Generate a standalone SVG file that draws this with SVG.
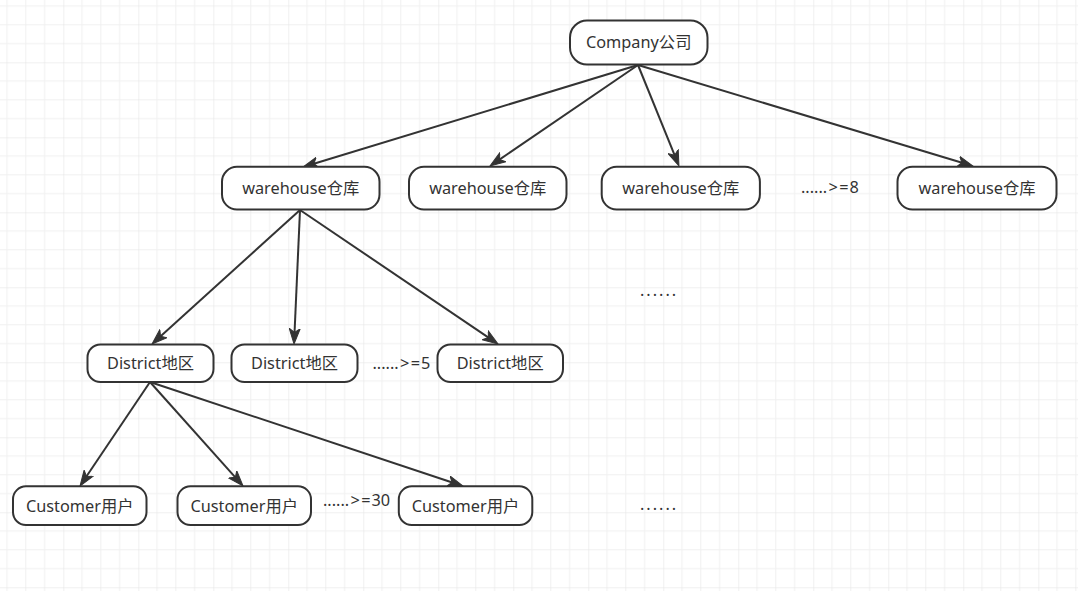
<svg xmlns="http://www.w3.org/2000/svg" width="1078" height="591" viewBox="0 0 1078 591">
<style>
.node rect{fill:#ffffff;stroke:#333333;stroke-width:2}
.node text,.label{font-family:"Noto Sans","Noto Sans CJK SC",sans-serif;font-size:16.3px;fill:#333333}
.node text{text-anchor:middle}
.edge{stroke:#333333;stroke-width:2;fill:none;marker-end:url(#arrow)}
</style>
<defs>
<pattern id="grid" patternUnits="userSpaceOnUse" x="-11.7" y="-12.7" width="75" height="75">
<path d="M18.75,0V75M37.5,0V75M56.25,0V75M0,18.75H75M0,37.5H75M0,56.25H75" stroke="#f0f0f0" stroke-width="1" fill="none"/>
<path d="M0,0V75M0,0H75" stroke="#e2e2e2" stroke-width="1" fill="none"/>
</pattern>
<marker id="arrow" markerUnits="userSpaceOnUse" viewBox="0 0 16 12" markerWidth="16" markerHeight="12" refX="5" refY="6" orient="auto">
<path d="M0,0.5 L15.5,6 L0,11.5 L4,6 Z" fill="#333333" stroke="#333333" stroke-width="1" stroke-linejoin="miter"/>
</marker>
</defs>
<rect x="0" y="0" width="1078" height="591" fill="#ffffff"/>
<rect x="0" y="0" width="1078" height="591" fill="url(#grid)"/>

<g id="connectors">
<path class="edge" d="M638,65 L313,164"/>
<path class="edge" d="M638,65 L498.7,160.1"/>
<path class="edge" d="M638,65 L675,156.2"/>
<path class="edge" d="M638,65 L962.9,163"/>
<path class="edge" d="M300,210 L159.8,337"/>
<path class="edge" d="M300,210 L294.5,333.5"/>
<path class="edge" d="M300,210 L489.3,338.1"/>
<path class="edge" d="M150,382 L85.9,477.3"/>
<path class="edge" d="M150,382 L236,478.1"/>
<path class="edge" d="M150,382 L453,482.7"/>
</g>

<g id="company" class="node"><rect x="570" y="20.5" width="137.5" height="44" rx="17"/><text x="638.7" y="48.3">Company公司</text></g>

<g id="warehouse1" class="node"><rect x="222" y="166.8" width="157.5" height="42.7" rx="15"/><text x="300.7" y="194">warehouse仓库</text></g>
<g id="warehouse2" class="node"><rect x="409" y="166.8" width="157.5" height="42.7" rx="15"/><text x="487.7" y="194">warehouse仓库</text></g>
<g id="warehouse3" class="node"><rect x="601.7" y="166.8" width="158.2" height="42.7" rx="15"/><text x="680.8" y="194">warehouse仓库</text></g>
<g id="warehouse4" class="node"><rect x="897.5" y="166.8" width="159" height="42.7" rx="15"/><text x="977" y="194">warehouse仓库</text></g>
<text class="label" x="801" y="193.3">......<tspan dx="1.2">&gt;</tspan><tspan dx="1.5">=</tspan><tspan dx="1">8</tspan></text>

<text class="label" x="640" y="295.8" letter-spacing="2">......</text>

<g id="district1" class="node"><rect x="87.5" y="344.5" width="126" height="37.5" rx="13"/><text x="150.5" y="369.3">District地区</text></g>
<g id="district2" class="node"><rect x="231.5" y="344.5" width="126" height="37.5" rx="13"/><text x="294.5" y="369.3">District地区</text></g>
<text class="label" x="372.5" y="368.5">......<tspan dx="1.2">&gt;</tspan><tspan dx="1.5">=</tspan><tspan dx="1">5</tspan></text>
<g id="district3" class="node"><rect x="437.5" y="344.5" width="125.5" height="37.5" rx="13"/><text x="500.2" y="369.3">District地区</text></g>

<g id="customer1" class="node"><rect x="13" y="486.3" width="133.5" height="38.7" rx="13"/><text x="79.7" y="511.8">Customer用户</text></g>
<g id="customer2" class="node"><rect x="177.5" y="486.3" width="133.5" height="38.7" rx="13"/><text x="244.2" y="511.8">Customer用户</text></g>
<text class="label" x="323" y="505.8">......<tspan dx="1.2">&gt;</tspan><tspan dx="1.5">=</tspan><tspan dx="1">30</tspan></text>
<g id="customer3" class="node"><rect x="398.8" y="486.3" width="133.5" height="38.7" rx="13"/><text x="465.5" y="511.8">Customer用户</text></g>

<text class="label" x="640" y="510.2" letter-spacing="2">......</text>
</svg>
